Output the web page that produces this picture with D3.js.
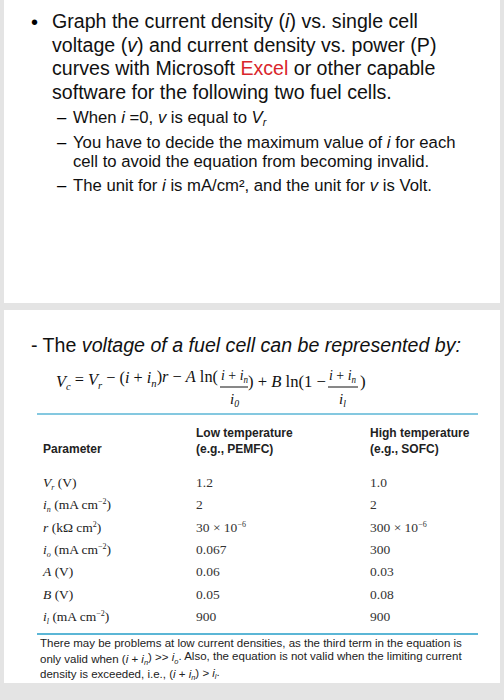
<!DOCTYPE html>
<html>
<head>
<meta charset="utf-8">
<script src="https://d3js.org/d3.v7.min.js"></script>
<style>
body { margin: 0; background: #e4e4e4; }
text { font-family: "Liberation Sans", Arial, sans-serif; }
.serif { font-family: "Liberation Serif", "Times New Roman", serif; }
</style>
</head>
<body>
<div id="chart"></div>
<script>
// slide text: *italic*, |red|, _x subscript
var bulletLines = ["Graph the current density (*i*) vs. single cell",
  "voltage (*v*) and current density vs. power (P)",
  "curves with Microsoft |Excel| or other capable",
  "software for the following two fuel cells."]
var subItems = [["When *i* =0, *v* is equal to *V*_r"],
  ["You have to decide the maximum value of *i* for each", "cell to avoid the equation from becoming invalid."],
  ["The unit for *i* is  mA/cm\u00b2, and the unit for *v* is Volt."]]

// table data
var params = [["V","r"," (V)",""],["i","n"," (mA cm","\u22122",")"],["r","", " (k\u03a9 cm","2",")"],
  ["i","o"," (mA cm","\u22122",")"],["A",""," (V)",""],["B",""," (V)",""],["i","l"," (mA cm","\u22122",")"]]
var lowTemp = ["1.2","2","30 \u00d7 10|\u22126","0.067","0.06","0.05","900"]
var highTemp = ["1.0","2","300 \u00d7 10|\u22126","300","0.03","0.08","900"]
var noteLines = ["There may be problems at low current densities, as the third term in the equation is",
  "only valid when (*i* + *i*_n) >> *i*_o. Also, the equation is not valid when the limiting current",
  "density is exceeded, i.e., (*i* + *i*_n) > *i*_l."]

const svg = d3.select("#chart").append("svg").attr("width", 504).attr("height", 700)

svg.append("rect").attr("x", 4).attr("y", 0).attr("width", 496).attr("height", 303).attr("fill", "#fff")
svg.append("rect").attr("x", 4).attr("y", 310).attr("width", 496).attr("height", 373).attr("fill", "#fff")

function rich(t, str) {
  var italic = false, red = false, buf = ""
  function flush() {
    if (!buf) return
    t.append("tspan").style("font-style", italic ? "italic" : "normal").attr("fill", red ? "#d9262c" : null).text(buf)
    buf = ""
  }
  for (var k = 0; k < str.length; k++) {
    var c = str[k]
    if (c == "*") { flush(); italic = !italic }
    else if (c == "|") { flush(); red = !red }
    else if (c == "_") {
      flush()
      t.append("tspan").attr("dy", "0.3em").style("font-size", "65%").style("font-style", "italic").text(str[++k])
      t.append("tspan").attr("dy", "-0.3em").text("\u200b")
    }
    else buf += c
  }
  flush()
}

svg.append("text").attr("x", 31).attr("y", 29).style("font-size", "20px").text("\u2022")
bulletLines.forEach((l, i) => {
  const t = svg.append("text").attr("x", 52).attr("y", 28 + i * 23.7).style("font-size", "19.6px").attr("fill", "#111")
  rich(t, l)
})
var yy = [123, 148, 167, 191], n = 0
subItems.forEach(item => {
  svg.append("text").attr("x", 57).attr("y", yy[n]).style("font-size", "16.7px").text("\u2013")
  item.forEach(l => {
    const t = svg.append("text").attr("x", 73).attr("y", yy[n]).style("font-size", "16.7px").attr("fill", "#111")
    rich(t, l)
    n++
  })
})

svg.append("text").attr("x", 31).attr("y", 352).style("font-size", "19.6px").attr("fill", "#111")
  .call(t => { t.append("tspan").text("- The "); t.append("tspan").style("font-style", "italic").text("voltage of a fuel cell can be represented by:") })

// equation
const eq = svg.append("g")
function seg(x, y, s, size, len) {
  const t = eq.append("text").attr("class", "serif").attr("x", x).attr("y", y).style("font-size", size + "px").attr("fill", "#111")
  rich(t, s)
  if (len) t.attr("textLength", len).attr("lengthAdjust", "spacingAndGlyphs")
  return t
}
seg(56, 387, "*V*_c = *V*_r \u2212 (*i* + *i*_n)*r* \u2212 *A* ln(", 17, 162)
seg(221, 380, "*i* + *i*_n", 15, 27)
eq.append("line").attr("x1", 220).attr("x2", 248).attr("y1", 387).attr("y2", 387).attr("stroke", "#111")
seg(230, 404, "*i*_0", 15)
seg(248, 387, ") + *B* ln(1 \u2212", 17, 78)
seg(329, 380, "*i* + *i*_n", 15, 27)
eq.append("line").attr("x1", 328).attr("x2", 358).attr("y1", 387).attr("y2", 387).attr("stroke", "#111")
seg(339, 404, "*i*_l", 15)
seg(360, 387, ")", 17)

const rule = "#5bb6d6"
svg.append("line").attr("x1", 37).attr("x2", 478).attr("y1", 414).attr("y2", 414).attr("stroke", rule).attr("stroke-width", 1.5)
svg.append("line").attr("x1", 37).attr("x2", 478).attr("y1", 634).attr("y2", 634).attr("stroke", rule).attr("stroke-width", 2)

const hdr = [[43, ["", "Parameter"]], [196, ["Low temperature", "(e.g., PEMFC)"]], [370, ["High temperature", "(e.g., SOFC)"]]]
hdr.forEach(h => h[1].forEach((s, i) => svg.append("text").attr("x", h[0]).attr("y", 437 + i * 16).style("font-size", "12px").style("font-weight", "bold").attr("fill", "#222").text(s)))

const y = d3.scalePoint().domain(d3.range(params.length)).range([487, 621])
params.forEach((p, i) => {
  const t = svg.append("text").attr("class", "serif").attr("x", 43).attr("y", y(i)).style("font-size", "13.5px").attr("fill", "#222")
  t.append("tspan").style("font-style", "italic").text(p[0])
  if (p[1]) t.append("tspan").attr("dy", 3).style("font-size", "8px").style("font-style", "italic").text(p[1])
  t.append("tspan").attr("dy", p[1] ? -3 : 0).text(p[2])
  if (p[3]) { t.append("tspan").attr("dy", -5).style("font-size", "8px").text(p[3]); t.append("tspan").attr("dy", 5).text(p[4]) }
})
function valCol(vals, x) {
  vals.forEach((v, i) => {
    const t = svg.append("text").attr("class", "serif").attr("x", x).attr("y", y(i)).style("font-size", "13.5px").attr("fill", "#333")
    const parts = v.split("|")
    t.append("tspan").text(parts[0])
    if (parts[1]) t.append("tspan").attr("dy", -5).style("font-size", "8px").text(parts[1])
  })
}
valCol(lowTemp, 196); valCol(highTemp, 370)

noteLines.forEach((l, i) => {
  const t = svg.append("text").attr("x", 40).attr("y", 647 + i * 15.5).style("font-size", "11.5px").attr("fill", "#222")
  rich(t, l)
})
</script>
</body>
</html>
